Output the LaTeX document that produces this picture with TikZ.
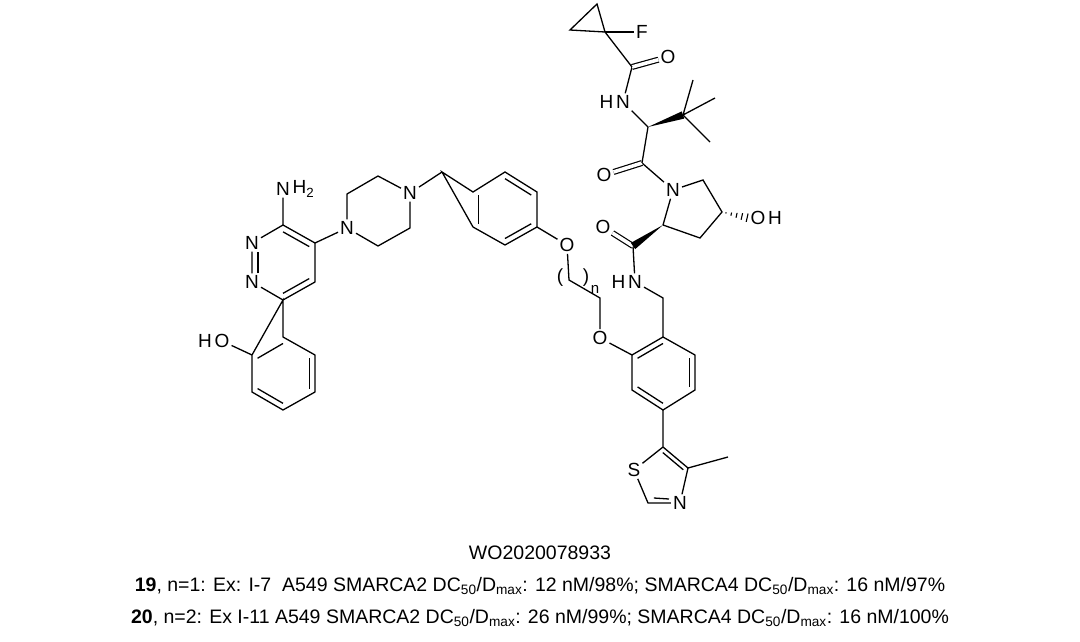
\documentclass[tikz,border=0pt]{standalone}
\usepackage{fontspec}
\setmainfont{Liberation Sans}
\usetikzlibrary{calc}
\begin{document}
\begin{tikzpicture}[x=1pt,y=-1pt,line width=1.3pt,
  atom/.style={inner sep=1.5pt,font=\fontsize{19}{19}\selectfont},
  lbl/.style={inner sep=0pt,font=\fontsize{19}{19}\selectfont},
  captext/.style={inner sep=0pt,font=\fontsize{19.5}{20}\selectfont},
  dbl/.style={double,double distance=3.6pt,line width=1.2pt}]
\useasboundingbox (0,0) rectangle (1080,642);
\newcommand\myinnerbond[3]{\draw ($(#1)!0.18!(#3)$) -- ($(#2)!0.18!(#3)$);}
\newcommand\mywedgebond[2]{\fill (#1) -- ($(#2)!3.8pt!90:(#1)$) -- ($(#2)!3.8pt!-90:(#1)$) -- cycle;}
% pyridazine
\node[atom] (N1) at (252,282) {N};
\node[atom] (N2) at (252,243) {N};
\coordinate (C3) at (283,225);
\coordinate (C4) at (315,243);
\coordinate (C5) at (315,282);
\coordinate (C6) at (283,300);
\coordinate (pz) at (283,263);
\node[atom] (NA) at (283,189) {N};
\node[lbl,anchor=west] (NAH) at (NA.east) {H\textsubscript{2}};
\draw (N1)--(N2) (N2)--(C3)--(C4)--(C5)--(C6)--(N1) (C3)--(NA);
\draw ($(N1.north)+(6,0)$) -- ($(N2.south)+(6,0)$);
\myinnerbond{C3}{C4}{pz}\myinnerbond{C5}{C6}{pz}
% piperazine
\node[atom] (P1) at (347,228) {N};
\coordinate (P2) at (347,194);
\coordinate (P3) at (378,176);
\node[atom] (P4) at (410,193) {N};
\coordinate (P5) at (410,228);
\coordinate (P6) at (378,246);
\draw (C4)--(P1)--(P2)--(P3)--(P4)--(P5)--(P6)--(P1);
\coordinate (M1) at (442,172);
\draw (P4)--(M1);
% benzene 1
\coordinate (B1) at (473,192);
\coordinate (B2) at (505,172);
\coordinate (B3) at (537,192);
\coordinate (B4) at (537,227);
\coordinate (B5) at (505,245);
\coordinate (B6) at (473,227);
\coordinate (bz) at (505,209);
\draw (M1)--(B1)--(B2)--(B3)--(B4)--(B5)--(B6)--cycle;
\myinnerbond{B6}{B1}{bz}\myinnerbond{B2}{B3}{bz}\myinnerbond{B4}{B5}{bz}
\node[atom] (O1) at (567,245) {O};
\draw (B4)--(O1);
% hydroxyphenyl
\coordinate (H1) at (283,337);
\coordinate (H2) at (315,355);
\coordinate (H3) at (315,392);
\coordinate (H4) at (283,410);
\coordinate (H5) at (252,392);
\coordinate (H6) at (252,355);
\coordinate (hz) at (283,373);
\draw (C6)--(H1)--(H2)--(H3)--(H4)--(H5)--(H6)--cycle;
\myinnerbond{H1}{H6}{hz}\myinnerbond{H2}{H3}{hz}\myinnerbond{H4}{H5}{hz}
\node[atom] (OH1) at (222,341) {O};
\node[lbl,anchor=east] at (OH1.west) {H};
\draw (H6)--(OH1);
% linker
\coordinate (L1) at (569,280);
\coordinate (L2) at (600,298);
\node[atom] (O2) at (600,338) {O};
\draw (O1)--(L1)--(L2)--(O2);
\node[lbl] (pl) at (560,278) {(};
\node[lbl] (pr) at (586,278) {)};
\node[lbl,font=\fontsize{15}{15}\selectfont] (nn) at (595,289) {n};
% benzene 2
\coordinate (R1) at (663,337);
\coordinate (R2) at (632,355);
\coordinate (R3) at (632,390);
\coordinate (R4) at (663,410);
\coordinate (R5) at (695,390);
\coordinate (R6) at (695,355);
\coordinate (rz) at (663,373);
\draw (R1)--(R2)--(R3)--(R4)--(R5)--(R6)--cycle;
\myinnerbond{R1}{R2}{rz}\myinnerbond{R3}{R4}{rz}\myinnerbond{R5}{R6}{rz}
\draw (O2)--(R2);
\coordinate (M2) at (663,298);
\node[atom] (NB) at (635,282) {N};
\node[lbl,anchor=east] at (NB.west) {H};
\draw (R1)--(M2)--(NB);
% thiazole
\coordinate (T5) at (663,447);
\node[atom] (TS) at (634,470) {S};
\coordinate (T2) at (648,503);
\node[atom] (TN) at (680,503) {N};
\coordinate (T4) at (688,468);
\coordinate (Me) at (728,457);
\coordinate (tz) at (662,478);
\draw (R4)--(T5)--(TS)--(T2)--(TN)--(T4)--(T5) (T4)--(Me);
\myinnerbond{T5}{T4}{tz}
\draw ($(T2)!0.2!(tz)+(3,0)$) -- ($(TN.west)+(-2,-4)$);
% amide to pyrrolidine
\coordinate (A1) at (633,246);
\node[atom] (AO) at (603,227) {O};
\draw (NB)--(A1);
\draw[dbl] (A1)--(AO);
\coordinate (Q2) at (663,225);
\node[atom] (QN) at (673,190) {N};
\coordinate (Q5) at (703,180);
\coordinate (Q4) at (722,212);
\coordinate (Q3) at (700,238);
\draw (Q2)--(QN)--(Q5)--(Q4)--(Q3)--(Q2);
\mywedgebond{Q2}{A1}
\node[atom] (QO) at (758,218) {O};
\node[lbl,anchor=west] at (QO.east) {H};
\coordinate (QOw) at (QO.west);
\foreach \t in {0.15,0.35,0.55,0.75,0.95}{
  \pgfmathsetmacro\hw{\t*4.5}
  \coordinate (hp) at ($(Q4)!\t!(QOw)$);
  \draw[line width=1.1pt] ($(hp)!\hw pt!90:(QOw)$) -- ($(hp)!\hw pt!-90:(QOw)$);}
% acyl
\coordinate (K1) at (642,163);
\node[atom] (KO) at (604,175) {O};
\draw (QN)--(K1);
\draw[dbl] (K1)--(KO);
\coordinate (CA) at (648,127);
\draw (K1)--(CA);
\coordinate (TB) at (683,115);
\mywedgebond{CA}{TB}
\coordinate (TM1) at (693,80);
\coordinate (TM2) at (715,98);
\coordinate (TM3) at (710,142);
\draw (TB)--(TM1) (TB)--(TM2) (TB)--(TM3);
\node[atom] (NC) at (623,102) {N};
\node[lbl,anchor=east] at (NC.west) {H};
\draw (CA)--(NC);
\coordinate (K2) at (632,67);
\draw (NC)--(K2);
\node[atom] (K2O) at (668,57) {O};
\draw[dbl] (K2)--(K2O);
\coordinate (CP) at (605,32);
\coordinate (CP1) at (597,4);
\coordinate (CP2) at (570,30);
\draw (K2)--(CP)--(CP1)--(CP2)--(CP);
\node[atom] (F) at (642,32) {F};
\draw (CP)--(F);
% caption
\node[captext] (t0) at (540,553) {WO2020078933};
\node[captext] (t1) at (540,586) {\textbf{19}, n=1: Ex: I-7\ \ A549 SMARCA2 DC\textsubscript{50}/D\textsubscript{max}: 12 nM/98\%; SMARCA4 DC\textsubscript{50}/D\textsubscript{max}: 16 nM/97\%};
\node[captext] (t2) at (540,618) {\textbf{20}, n=2: Ex I-11 A549 SMARCA2 DC\textsubscript{50}/D\textsubscript{max}: 26 nM/99\%; SMARCA4 DC\textsubscript{50}/D\textsubscript{max}: 16 nM/100\%};
\end{tikzpicture}
\end{document}
